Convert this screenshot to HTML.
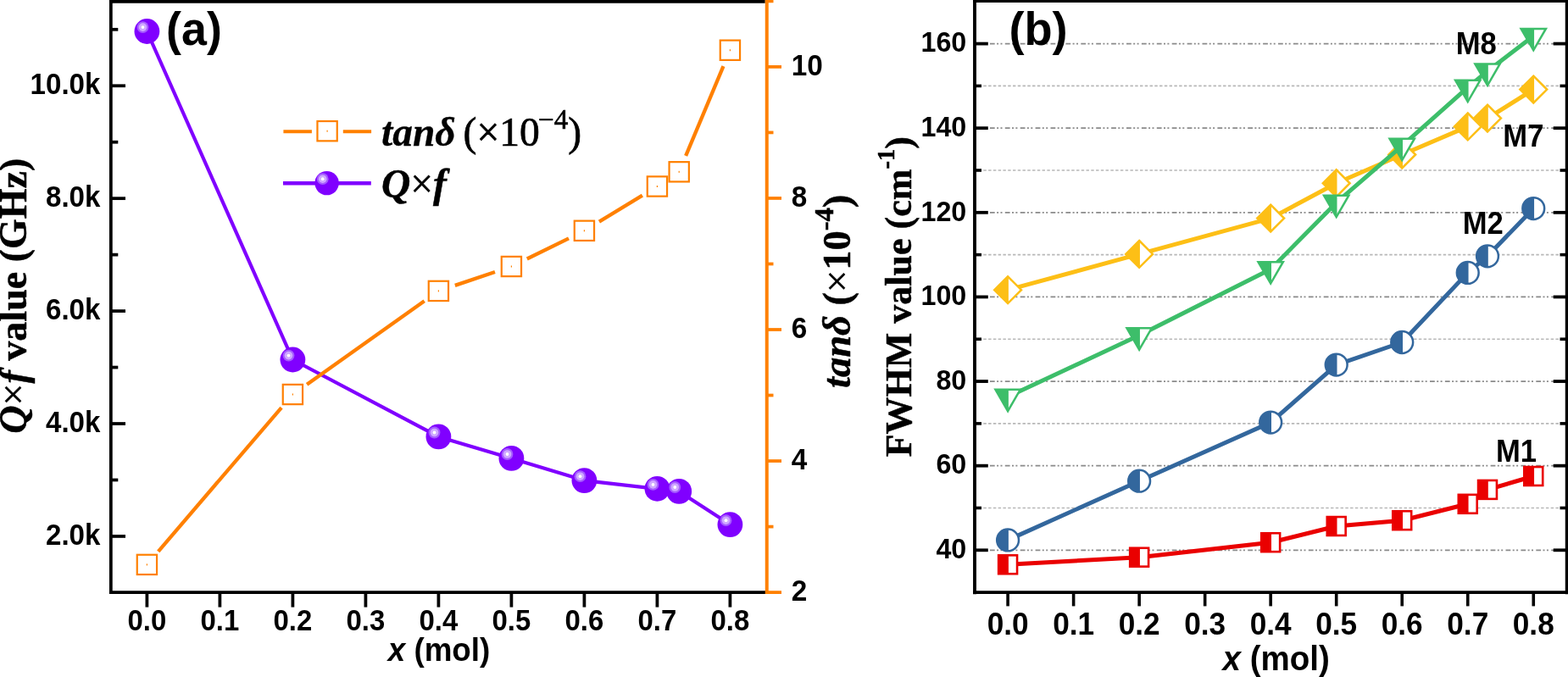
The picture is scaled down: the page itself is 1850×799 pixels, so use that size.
<!DOCTYPE html>
<html><head><meta charset="utf-8"><title>Figure</title>
<style>html,body{margin:0;padding:0;background:#fff;overflow:hidden}svg{display:block}</style>
</head><body>
<svg width="1850" height="799" viewBox="0 0 1850 799">
<rect width="1850" height="799" fill="#fff"/>
<line x1="128.97" y1="1.8" x2="902.75" y2="1.8" stroke="#000" stroke-width="3.75"/>
<line x1="130.84" y1="0" x2="130.84" y2="700.98" stroke="#000" stroke-width="3.75"/>
<line x1="128.97" y1="699.1" x2="904.75" y2="699.1" stroke="#000" stroke-width="3.75"/>
<line x1="130.84" y1="632.93" x2="148" y2="632.93" stroke="#000" stroke-width="3.75"/>
<line x1="130.84" y1="566.47" x2="139.3" y2="566.47" stroke="#000" stroke-width="3.75"/>
<line x1="130.84" y1="500.01" x2="148" y2="500.01" stroke="#000" stroke-width="3.75"/>
<line x1="130.84" y1="433.55" x2="139.3" y2="433.55" stroke="#000" stroke-width="3.75"/>
<line x1="130.84" y1="367.09" x2="148" y2="367.09" stroke="#000" stroke-width="3.75"/>
<line x1="130.84" y1="300.63" x2="139.3" y2="300.63" stroke="#000" stroke-width="3.75"/>
<line x1="130.84" y1="234.17" x2="148" y2="234.17" stroke="#000" stroke-width="3.75"/>
<line x1="130.84" y1="167.71" x2="139.3" y2="167.71" stroke="#000" stroke-width="3.75"/>
<line x1="130.84" y1="101.25" x2="148" y2="101.25" stroke="#000" stroke-width="3.75"/>
<line x1="130.84" y1="34.79" x2="139.3" y2="34.79" stroke="#000" stroke-width="3.75"/>
<text transform="translate(118.4,642.63) scale(1,1.04)" font-family="'Liberation Sans', Arial, sans-serif" font-weight="bold" font-size="33.1" text-anchor="end">2.0k</text>
<text transform="translate(118.4,509.71) scale(1,1.04)" font-family="'Liberation Sans', Arial, sans-serif" font-weight="bold" font-size="33.1" text-anchor="end">4.0k</text>
<text transform="translate(118.4,376.79) scale(1,1.04)" font-family="'Liberation Sans', Arial, sans-serif" font-weight="bold" font-size="33.1" text-anchor="end">6.0k</text>
<text transform="translate(118.4,243.87) scale(1,1.04)" font-family="'Liberation Sans', Arial, sans-serif" font-weight="bold" font-size="33.1" text-anchor="end">8.0k</text>
<text transform="translate(118.4,110.95) scale(1,1.04)" font-family="'Liberation Sans', Arial, sans-serif" font-weight="bold" font-size="33.1" text-anchor="end">10.0k</text>
<line x1="173.4" y1="699.1" x2="173.4" y2="716.6" stroke="#000" stroke-width="3.75"/>
<text transform="translate(173.4,744.1) scale(1,1.04)" font-family="'Liberation Sans', Arial, sans-serif" font-weight="bold" font-size="32.9" text-anchor="middle">0.0</text>
<line x1="259.4" y1="699.1" x2="259.4" y2="716.6" stroke="#000" stroke-width="3.75"/>
<text transform="translate(259.4,744.1) scale(1,1.04)" font-family="'Liberation Sans', Arial, sans-serif" font-weight="bold" font-size="32.9" text-anchor="middle">0.1</text>
<line x1="345.4" y1="699.1" x2="345.4" y2="716.6" stroke="#000" stroke-width="3.75"/>
<text transform="translate(345.4,744.1) scale(1,1.04)" font-family="'Liberation Sans', Arial, sans-serif" font-weight="bold" font-size="32.9" text-anchor="middle">0.2</text>
<line x1="431.4" y1="699.1" x2="431.4" y2="716.6" stroke="#000" stroke-width="3.75"/>
<text transform="translate(431.4,744.1) scale(1,1.04)" font-family="'Liberation Sans', Arial, sans-serif" font-weight="bold" font-size="32.9" text-anchor="middle">0.3</text>
<line x1="517.4" y1="699.1" x2="517.4" y2="716.6" stroke="#000" stroke-width="3.75"/>
<text transform="translate(517.4,744.1) scale(1,1.04)" font-family="'Liberation Sans', Arial, sans-serif" font-weight="bold" font-size="32.9" text-anchor="middle">0.4</text>
<line x1="603.4" y1="699.1" x2="603.4" y2="716.6" stroke="#000" stroke-width="3.75"/>
<text transform="translate(603.4,744.1) scale(1,1.04)" font-family="'Liberation Sans', Arial, sans-serif" font-weight="bold" font-size="32.9" text-anchor="middle">0.5</text>
<line x1="689.4" y1="699.1" x2="689.4" y2="716.6" stroke="#000" stroke-width="3.75"/>
<text transform="translate(689.4,744.1) scale(1,1.04)" font-family="'Liberation Sans', Arial, sans-serif" font-weight="bold" font-size="32.9" text-anchor="middle">0.6</text>
<line x1="775.4" y1="699.1" x2="775.4" y2="716.6" stroke="#000" stroke-width="3.75"/>
<text transform="translate(775.4,744.1) scale(1,1.04)" font-family="'Liberation Sans', Arial, sans-serif" font-weight="bold" font-size="32.9" text-anchor="middle">0.7</text>
<line x1="861.4" y1="699.1" x2="861.4" y2="716.6" stroke="#000" stroke-width="3.75"/>
<text transform="translate(861.4,744.1) scale(1,1.04)" font-family="'Liberation Sans', Arial, sans-serif" font-weight="bold" font-size="32.9" text-anchor="middle">0.8</text>
<line x1="904.75" y1="0" x2="904.75" y2="700.98" stroke="#FF8000" stroke-width="4"/>
<line x1="904.75" y1="699.1" x2="922" y2="699.1" stroke="#FF8000" stroke-width="3.75"/>
<text transform="translate(933.7,709) scale(1,1.04)" font-family="'Liberation Sans', Arial, sans-serif" font-weight="bold" font-size="33.3">2</text>
<line x1="904.75" y1="621.58" x2="912.5" y2="621.58" stroke="#FF8000" stroke-width="3.75"/>
<line x1="904.75" y1="544.05" x2="922" y2="544.05" stroke="#FF8000" stroke-width="3.75"/>
<text transform="translate(933.7,553.95) scale(1,1.04)" font-family="'Liberation Sans', Arial, sans-serif" font-weight="bold" font-size="33.3">4</text>
<line x1="904.75" y1="466.52" x2="912.5" y2="466.52" stroke="#FF8000" stroke-width="3.75"/>
<line x1="904.75" y1="389" x2="922" y2="389" stroke="#FF8000" stroke-width="3.75"/>
<text transform="translate(933.7,398.9) scale(1,1.04)" font-family="'Liberation Sans', Arial, sans-serif" font-weight="bold" font-size="33.3">6</text>
<line x1="904.75" y1="311.48" x2="912.5" y2="311.48" stroke="#FF8000" stroke-width="3.75"/>
<line x1="904.75" y1="233.95" x2="922" y2="233.95" stroke="#FF8000" stroke-width="3.75"/>
<text transform="translate(933.7,243.85) scale(1,1.04)" font-family="'Liberation Sans', Arial, sans-serif" font-weight="bold" font-size="33.3">8</text>
<line x1="904.75" y1="156.42" x2="912.5" y2="156.42" stroke="#FF8000" stroke-width="3.75"/>
<line x1="904.75" y1="78.9" x2="922" y2="78.9" stroke="#FF8000" stroke-width="3.75"/>
<text transform="translate(933.7,88.8) scale(1,1.04)" font-family="'Liberation Sans', Arial, sans-serif" font-weight="bold" font-size="33.3">10</text>
<line x1="904.75" y1="1.38" x2="912.5" y2="1.38" stroke="#FF8000" stroke-width="3.75"/>
<polyline points="173.4,37 345.4,424.5 517.4,515.4 603.4,540.9 689.4,567.1 775.4,576.8 801.2,579.9 861.4,619.1" fill="none" stroke="#8000FF" stroke-width="4.2" stroke-linejoin="round"/>
<circle cx="173.4" cy="37" r="14.9" fill="#8000FF"/><circle cx="168.5" cy="32.1" r="6.9" fill="#A55CFF"/><circle cx="168.5" cy="32.1" r="4.8" fill="#CFA8FF"/><circle cx="168.5" cy="32.1" r="1.9" fill="#FFFFFF"/>
<circle cx="345.4" cy="424.5" r="14.9" fill="#8000FF"/><circle cx="340.5" cy="419.6" r="6.9" fill="#A55CFF"/><circle cx="340.5" cy="419.6" r="4.8" fill="#CFA8FF"/><circle cx="340.5" cy="419.6" r="1.9" fill="#FFFFFF"/>
<circle cx="517.4" cy="515.4" r="14.9" fill="#8000FF"/><circle cx="512.5" cy="510.5" r="6.9" fill="#A55CFF"/><circle cx="512.5" cy="510.5" r="4.8" fill="#CFA8FF"/><circle cx="512.5" cy="510.5" r="1.9" fill="#FFFFFF"/>
<circle cx="603.4" cy="540.9" r="14.9" fill="#8000FF"/><circle cx="598.5" cy="536" r="6.9" fill="#A55CFF"/><circle cx="598.5" cy="536" r="4.8" fill="#CFA8FF"/><circle cx="598.5" cy="536" r="1.9" fill="#FFFFFF"/>
<circle cx="689.4" cy="567.1" r="14.9" fill="#8000FF"/><circle cx="684.5" cy="562.2" r="6.9" fill="#A55CFF"/><circle cx="684.5" cy="562.2" r="4.8" fill="#CFA8FF"/><circle cx="684.5" cy="562.2" r="1.9" fill="#FFFFFF"/>
<circle cx="775.4" cy="576.8" r="14.9" fill="#8000FF"/><circle cx="770.5" cy="571.9" r="6.9" fill="#A55CFF"/><circle cx="770.5" cy="571.9" r="4.8" fill="#CFA8FF"/><circle cx="770.5" cy="571.9" r="1.9" fill="#FFFFFF"/>
<circle cx="801.2" cy="579.9" r="14.9" fill="#8000FF"/><circle cx="796.3" cy="575" r="6.9" fill="#A55CFF"/><circle cx="796.3" cy="575" r="4.8" fill="#CFA8FF"/><circle cx="796.3" cy="575" r="1.9" fill="#FFFFFF"/>
<circle cx="861.4" cy="619.1" r="14.9" fill="#8000FF"/><circle cx="856.5" cy="614.2" r="6.9" fill="#A55CFF"/><circle cx="856.5" cy="614.2" r="4.8" fill="#CFA8FF"/><circle cx="856.5" cy="614.2" r="1.9" fill="#FFFFFF"/>
<line x1="186.73" y1="650.83" x2="332.07" y2="481.07" stroke="#FF8000" stroke-width="4.3"/>
<line x1="362.12" y1="453.63" x2="500.68" y2="355.27" stroke="#FF8000" stroke-width="4.3"/>
<line x1="536.83" y1="336.87" x2="583.97" y2="321.03" stroke="#FF8000" stroke-width="4.3"/>
<line x1="621.8" y1="305.47" x2="671" y2="281.33" stroke="#FF8000" stroke-width="4.3"/>
<line x1="706.92" y1="261.65" x2="757.88" y2="230.65" stroke="#FF8000" stroke-width="4.3"/>
<line x1="809.13" y1="183.9" x2="853.47" y2="78.15" stroke="#FF8000" stroke-width="4.3"/>
<rect x="161.75" y="654.75" width="23.3" height="23.3" fill="#fff" stroke="#FF8000" stroke-width="2.2"/><rect x="172.8" y="665.4" width="1.2" height="2" fill="#FF8000"/>
<rect x="333.75" y="453.85" width="23.3" height="23.3" fill="#fff" stroke="#FF8000" stroke-width="2.2"/><rect x="344.8" y="464.5" width="1.2" height="2" fill="#FF8000"/>
<rect x="505.75" y="331.75" width="23.3" height="23.3" fill="#fff" stroke="#FF8000" stroke-width="2.2"/><rect x="516.8" y="342.4" width="1.2" height="2" fill="#FF8000"/>
<rect x="591.75" y="302.85" width="23.3" height="23.3" fill="#fff" stroke="#FF8000" stroke-width="2.2"/><rect x="602.8" y="313.5" width="1.2" height="2" fill="#FF8000"/>
<rect x="677.75" y="260.65" width="23.3" height="23.3" fill="#fff" stroke="#FF8000" stroke-width="2.2"/><rect x="688.8" y="271.3" width="1.2" height="2" fill="#FF8000"/>
<rect x="763.75" y="208.35" width="23.3" height="23.3" fill="#fff" stroke="#FF8000" stroke-width="2.2"/><rect x="774.8" y="219" width="1.2" height="2" fill="#FF8000"/>
<rect x="789.55" y="191.15" width="23.3" height="23.3" fill="#fff" stroke="#FF8000" stroke-width="2.2"/><rect x="800.6" y="201.8" width="1.2" height="2" fill="#FF8000"/>
<rect x="849.75" y="47.6" width="23.3" height="23.3" fill="#fff" stroke="#FF8000" stroke-width="2.2"/><rect x="860.8" y="58.25" width="1.2" height="2" fill="#FF8000"/>
<line x1="334.4" y1="155.2" x2="367.9" y2="155.2" stroke="#FF8000" stroke-width="4.1"/>
<line x1="404.8" y1="155.2" x2="438.1" y2="155.2" stroke="#FF8000" stroke-width="4.1"/>
<rect x="374.45" y="143.05" width="23.3" height="23.3" fill="#fff" stroke="#FF8000" stroke-width="2.2"/><rect x="385.5" y="153.7" width="1.2" height="2" fill="#FF8000"/>
<line x1="334" y1="216.25" x2="437.8" y2="216.25" stroke="#8000FF" stroke-width="4.3"/>
<circle cx="385.6" cy="216.1" r="14.2" fill="#8000FF"/><circle cx="380.7" cy="211.2" r="6.9" fill="#A55CFF"/><circle cx="380.7" cy="211.2" r="4.8" fill="#CFA8FF"/><circle cx="380.7" cy="211.2" r="1.9" fill="#FFFFFF"/>
<text x="450" y="171.6" font-family="'Liberation Serif', 'Times New Roman', serif" font-size="47.5" stroke="#000" stroke-width="0.7"><tspan font-weight="bold" font-style="italic" stroke-width="0.3">tanδ</tspan> <tspan dx="-3">(×10</tspan><tspan font-size="33" dx="-1.6" dy="-20">−4</tspan><tspan dy="20">)</tspan></text>
<text x="450" y="233" font-family="'Liberation Serif', 'Times New Roman', serif" font-size="47.5" stroke="#000" stroke-width="0.5"><tspan font-weight="bold" font-style="italic">Q</tspan>×<tspan font-weight="bold" font-style="italic">f</tspan></text>
<text transform="translate(196.1,52.9) scale(1,1.04)" font-family="'Liberation Sans', Arial, sans-serif" font-weight="bold" font-size="53.8">(a)</text>
<text transform="translate(31.3,349.2) rotate(-90)" text-anchor="middle" font-family="'Liberation Serif', 'Times New Roman', serif" font-size="46" font-weight="bold" stroke="#000" stroke-width="0.5"><tspan font-style="italic">Q</tspan><tspan font-weight="normal">×</tspan><tspan font-style="italic">f</tspan> value (GHz)</text>
<text transform="translate(1002.5,343.8) rotate(-90)" text-anchor="middle" font-family="'Liberation Serif', 'Times New Roman', serif" font-size="46.5" font-weight="bold" stroke="#000" stroke-width="0.5"><tspan font-style="italic">tanδ</tspan> (<tspan font-weight="normal">×</tspan>10<tspan font-size="32.5" dy="-19.6">-4</tspan><tspan dy="19.6">)</tspan></text>
<text transform="translate(518,779.6) scale(1,1.04)" font-family="'Liberation Sans', Arial, sans-serif" font-weight="bold" font-size="36.8" text-anchor="middle"><tspan font-style="italic">x</tspan> (mol)</text>
<line x1="1150.0" y1="649.3" x2="1848.7" y2="649.3" stroke="#8a8a8a" stroke-width="1.8" stroke-dasharray="5.8 2.4 2 2.4 2 3.3"/>
<line x1="1150.0" y1="549.68" x2="1848.7" y2="549.68" stroke="#8a8a8a" stroke-width="1.8" stroke-dasharray="5.8 2.4 2 2.4 2 3.3"/>
<line x1="1150.0" y1="450.06" x2="1848.7" y2="450.06" stroke="#8a8a8a" stroke-width="1.8" stroke-dasharray="5.8 2.4 2 2.4 2 3.3"/>
<line x1="1150.0" y1="350.44" x2="1848.7" y2="350.44" stroke="#8a8a8a" stroke-width="1.8" stroke-dasharray="5.8 2.4 2 2.4 2 3.3"/>
<line x1="1150.0" y1="250.82" x2="1848.7" y2="250.82" stroke="#8a8a8a" stroke-width="1.8" stroke-dasharray="5.8 2.4 2 2.4 2 3.3"/>
<line x1="1150.0" y1="151.2" x2="1848.7" y2="151.2" stroke="#8a8a8a" stroke-width="1.8" stroke-dasharray="5.8 2.4 2 2.4 2 3.3"/>
<line x1="1150.0" y1="51.58" x2="1848.7" y2="51.58" stroke="#8a8a8a" stroke-width="1.8" stroke-dasharray="5.8 2.4 2 2.4 2 3.3"/>
<line x1="1150.0" y1="599.49" x2="1848.7" y2="599.49" stroke="#b8b8b8" stroke-width="1.6" stroke-dasharray="3.45 2.32" stroke-dashoffset="1.2"/>
<line x1="1150.0" y1="499.87" x2="1848.7" y2="499.87" stroke="#b8b8b8" stroke-width="1.6" stroke-dasharray="3.45 2.32" stroke-dashoffset="1.2"/>
<line x1="1150.0" y1="400.25" x2="1848.7" y2="400.25" stroke="#b8b8b8" stroke-width="1.6" stroke-dasharray="3.45 2.32" stroke-dashoffset="1.2"/>
<line x1="1150.0" y1="300.63" x2="1848.7" y2="300.63" stroke="#b8b8b8" stroke-width="1.6" stroke-dasharray="3.45 2.32" stroke-dashoffset="1.2"/>
<line x1="1150.0" y1="201.01" x2="1848.7" y2="201.01" stroke="#b8b8b8" stroke-width="1.6" stroke-dasharray="3.45 2.32" stroke-dashoffset="1.2"/>
<line x1="1150.0" y1="101.39" x2="1848.7" y2="101.39" stroke="#b8b8b8" stroke-width="1.6" stroke-dasharray="3.45 2.32" stroke-dashoffset="1.2"/>
<line x1="1148" y1="1.3" x2="1850.7" y2="1.3" stroke="#000" stroke-width="3.4"/>
<line x1="1150.0" y1="0" x2="1150.0" y2="701.2" stroke="#000" stroke-width="3.9"/>
<line x1="1848.7" y1="0" x2="1848.7" y2="701.2" stroke="#000" stroke-width="3.9"/>
<line x1="1148" y1="699.2" x2="1850.7" y2="699.2" stroke="#000" stroke-width="3.7"/>
<line x1="1150.0" y1="649.3" x2="1165.8" y2="649.3" stroke="#000" stroke-width="3.8"/>
<line x1="1848.7" y1="649.3" x2="1832.7" y2="649.3" stroke="#000" stroke-width="3.8"/>
<text transform="translate(1140.3,659.1) scale(1,1.04)" font-family="'Liberation Sans', Arial, sans-serif" font-weight="bold" font-size="32.3" text-anchor="end">40</text>
<line x1="1150.0" y1="599.49" x2="1158" y2="599.49" stroke="#000" stroke-width="3.6"/>
<line x1="1848.7" y1="599.49" x2="1840.5" y2="599.49" stroke="#000" stroke-width="3.6"/>
<line x1="1150.0" y1="549.68" x2="1165.8" y2="549.68" stroke="#000" stroke-width="3.8"/>
<line x1="1848.7" y1="549.68" x2="1832.7" y2="549.68" stroke="#000" stroke-width="3.8"/>
<text transform="translate(1140.3,559.48) scale(1,1.04)" font-family="'Liberation Sans', Arial, sans-serif" font-weight="bold" font-size="32.3" text-anchor="end">60</text>
<line x1="1150.0" y1="499.87" x2="1158" y2="499.87" stroke="#000" stroke-width="3.6"/>
<line x1="1848.7" y1="499.87" x2="1840.5" y2="499.87" stroke="#000" stroke-width="3.6"/>
<line x1="1150.0" y1="450.06" x2="1165.8" y2="450.06" stroke="#000" stroke-width="3.8"/>
<line x1="1848.7" y1="450.06" x2="1832.7" y2="450.06" stroke="#000" stroke-width="3.8"/>
<text transform="translate(1140.3,459.86) scale(1,1.04)" font-family="'Liberation Sans', Arial, sans-serif" font-weight="bold" font-size="32.3" text-anchor="end">80</text>
<line x1="1150.0" y1="400.25" x2="1158" y2="400.25" stroke="#000" stroke-width="3.6"/>
<line x1="1848.7" y1="400.25" x2="1840.5" y2="400.25" stroke="#000" stroke-width="3.6"/>
<line x1="1150.0" y1="350.44" x2="1165.8" y2="350.44" stroke="#000" stroke-width="3.8"/>
<line x1="1848.7" y1="350.44" x2="1832.7" y2="350.44" stroke="#000" stroke-width="3.8"/>
<text transform="translate(1140.3,360.24) scale(1,1.04)" font-family="'Liberation Sans', Arial, sans-serif" font-weight="bold" font-size="32.3" text-anchor="end">100</text>
<line x1="1150.0" y1="300.63" x2="1158" y2="300.63" stroke="#000" stroke-width="3.6"/>
<line x1="1848.7" y1="300.63" x2="1840.5" y2="300.63" stroke="#000" stroke-width="3.6"/>
<line x1="1150.0" y1="250.82" x2="1165.8" y2="250.82" stroke="#000" stroke-width="3.8"/>
<line x1="1848.7" y1="250.82" x2="1832.7" y2="250.82" stroke="#000" stroke-width="3.8"/>
<text transform="translate(1140.3,260.62) scale(1,1.04)" font-family="'Liberation Sans', Arial, sans-serif" font-weight="bold" font-size="32.3" text-anchor="end">120</text>
<line x1="1150.0" y1="201.01" x2="1158" y2="201.01" stroke="#000" stroke-width="3.6"/>
<line x1="1848.7" y1="201.01" x2="1840.5" y2="201.01" stroke="#000" stroke-width="3.6"/>
<line x1="1150.0" y1="151.2" x2="1165.8" y2="151.2" stroke="#000" stroke-width="3.8"/>
<line x1="1848.7" y1="151.2" x2="1832.7" y2="151.2" stroke="#000" stroke-width="3.8"/>
<text transform="translate(1140.3,161) scale(1,1.04)" font-family="'Liberation Sans', Arial, sans-serif" font-weight="bold" font-size="32.3" text-anchor="end">140</text>
<line x1="1150.0" y1="101.39" x2="1158" y2="101.39" stroke="#000" stroke-width="3.6"/>
<line x1="1848.7" y1="101.39" x2="1840.5" y2="101.39" stroke="#000" stroke-width="3.6"/>
<line x1="1150.0" y1="51.58" x2="1165.8" y2="51.58" stroke="#000" stroke-width="3.8"/>
<line x1="1848.7" y1="51.58" x2="1832.7" y2="51.58" stroke="#000" stroke-width="3.8"/>
<text transform="translate(1140.3,61.38) scale(1,1.04)" font-family="'Liberation Sans', Arial, sans-serif" font-weight="bold" font-size="32.3" text-anchor="end">160</text>
<line x1="1189.1" y1="699.2" x2="1189.1" y2="715.4" stroke="#000" stroke-width="3.6"/>
<text transform="translate(1189.1,748.5) scale(1,1.04)" font-family="'Liberation Sans', Arial, sans-serif" font-weight="bold" font-size="35.2" text-anchor="middle">0.0</text>
<line x1="1266.62" y1="699.2" x2="1266.62" y2="715.4" stroke="#000" stroke-width="3.6"/>
<text transform="translate(1266.62,748.5) scale(1,1.04)" font-family="'Liberation Sans', Arial, sans-serif" font-weight="bold" font-size="35.2" text-anchor="middle">0.1</text>
<line x1="1344.14" y1="699.2" x2="1344.14" y2="715.4" stroke="#000" stroke-width="3.6"/>
<text transform="translate(1344.14,748.5) scale(1,1.04)" font-family="'Liberation Sans', Arial, sans-serif" font-weight="bold" font-size="35.2" text-anchor="middle">0.2</text>
<line x1="1421.66" y1="699.2" x2="1421.66" y2="715.4" stroke="#000" stroke-width="3.6"/>
<text transform="translate(1421.66,748.5) scale(1,1.04)" font-family="'Liberation Sans', Arial, sans-serif" font-weight="bold" font-size="35.2" text-anchor="middle">0.3</text>
<line x1="1499.18" y1="699.2" x2="1499.18" y2="715.4" stroke="#000" stroke-width="3.6"/>
<text transform="translate(1499.18,748.5) scale(1,1.04)" font-family="'Liberation Sans', Arial, sans-serif" font-weight="bold" font-size="35.2" text-anchor="middle">0.4</text>
<line x1="1576.7" y1="699.2" x2="1576.7" y2="715.4" stroke="#000" stroke-width="3.6"/>
<text transform="translate(1576.7,748.5) scale(1,1.04)" font-family="'Liberation Sans', Arial, sans-serif" font-weight="bold" font-size="35.2" text-anchor="middle">0.5</text>
<line x1="1654.22" y1="699.2" x2="1654.22" y2="715.4" stroke="#000" stroke-width="3.6"/>
<text transform="translate(1654.22,748.5) scale(1,1.04)" font-family="'Liberation Sans', Arial, sans-serif" font-weight="bold" font-size="35.2" text-anchor="middle">0.6</text>
<line x1="1731.74" y1="699.2" x2="1731.74" y2="715.4" stroke="#000" stroke-width="3.6"/>
<text transform="translate(1731.74,748.5) scale(1,1.04)" font-family="'Liberation Sans', Arial, sans-serif" font-weight="bold" font-size="35.2" text-anchor="middle">0.7</text>
<line x1="1809.26" y1="699.2" x2="1809.26" y2="715.4" stroke="#000" stroke-width="3.6"/>
<text transform="translate(1809.26,748.5) scale(1,1.04)" font-family="'Liberation Sans', Arial, sans-serif" font-weight="bold" font-size="35.2" text-anchor="middle">0.8</text>
<polyline points="1189.1,666.3 1344.14,657.7 1499.18,640.2 1576.7,621 1654.22,614.2 1731.74,594.8 1755,577.9 1809.26,562" fill="none" stroke="#EA0000" stroke-width="5" stroke-linejoin="round"/>
<rect x="1178.15" y="655.35" width="21.9" height="21.9" fill="#fff"/><rect x="1178.15" y="655.35" width="11.75" height="21.9" fill="#EA0000"/><rect x="1178.15" y="655.35" width="21.9" height="21.9" fill="none" stroke="#EA0000" stroke-width="2.6"/>
<rect x="1333.19" y="646.75" width="21.9" height="21.9" fill="#fff"/><rect x="1333.19" y="646.75" width="11.75" height="21.9" fill="#EA0000"/><rect x="1333.19" y="646.75" width="21.9" height="21.9" fill="none" stroke="#EA0000" stroke-width="2.6"/>
<rect x="1488.23" y="629.25" width="21.9" height="21.9" fill="#fff"/><rect x="1488.23" y="629.25" width="11.75" height="21.9" fill="#EA0000"/><rect x="1488.23" y="629.25" width="21.9" height="21.9" fill="none" stroke="#EA0000" stroke-width="2.6"/>
<rect x="1565.75" y="610.05" width="21.9" height="21.9" fill="#fff"/><rect x="1565.75" y="610.05" width="11.75" height="21.9" fill="#EA0000"/><rect x="1565.75" y="610.05" width="21.9" height="21.9" fill="none" stroke="#EA0000" stroke-width="2.6"/>
<rect x="1643.27" y="603.25" width="21.9" height="21.9" fill="#fff"/><rect x="1643.27" y="603.25" width="11.75" height="21.9" fill="#EA0000"/><rect x="1643.27" y="603.25" width="21.9" height="21.9" fill="none" stroke="#EA0000" stroke-width="2.6"/>
<rect x="1720.79" y="583.85" width="21.9" height="21.9" fill="#fff"/><rect x="1720.79" y="583.85" width="11.75" height="21.9" fill="#EA0000"/><rect x="1720.79" y="583.85" width="21.9" height="21.9" fill="none" stroke="#EA0000" stroke-width="2.6"/>
<rect x="1744.05" y="566.95" width="21.9" height="21.9" fill="#fff"/><rect x="1744.05" y="566.95" width="11.75" height="21.9" fill="#EA0000"/><rect x="1744.05" y="566.95" width="21.9" height="21.9" fill="none" stroke="#EA0000" stroke-width="2.6"/>
<rect x="1798.31" y="551.05" width="21.9" height="21.9" fill="#fff"/><rect x="1798.31" y="551.05" width="11.75" height="21.9" fill="#EA0000"/><rect x="1798.31" y="551.05" width="21.9" height="21.9" fill="none" stroke="#EA0000" stroke-width="2.6"/>
<polyline points="1189.1,637.4 1344.14,567.7 1499.18,498.6 1576.7,430.6 1654.22,404 1731.74,321.9 1755,302.3 1809.26,246.1" fill="none" stroke="#33679D" stroke-width="5" stroke-linejoin="round"/>
<circle cx="1189.1" cy="637.4" r="12.9" fill="#fff"/><path d="M1189.9,624.5 L1189.1,624.5 A12.9,12.9 0 0 0 1189.1,650.3 L1189.9,650.3 Z" fill="#33679D"/><circle cx="1189.1" cy="637.4" r="12.9" fill="none" stroke="#33679D" stroke-width="2.5"/>
<circle cx="1344.14" cy="567.7" r="12.9" fill="#fff"/><path d="M1344.94,554.8 L1344.14,554.8 A12.9,12.9 0 0 0 1344.14,580.6 L1344.94,580.6 Z" fill="#33679D"/><circle cx="1344.14" cy="567.7" r="12.9" fill="none" stroke="#33679D" stroke-width="2.5"/>
<circle cx="1499.18" cy="498.6" r="12.9" fill="#fff"/><path d="M1499.98,485.7 L1499.18,485.7 A12.9,12.9 0 0 0 1499.18,511.5 L1499.98,511.5 Z" fill="#33679D"/><circle cx="1499.18" cy="498.6" r="12.9" fill="none" stroke="#33679D" stroke-width="2.5"/>
<circle cx="1576.7" cy="430.6" r="12.9" fill="#fff"/><path d="M1577.5,417.7 L1576.7,417.7 A12.9,12.9 0 0 0 1576.7,443.5 L1577.5,443.5 Z" fill="#33679D"/><circle cx="1576.7" cy="430.6" r="12.9" fill="none" stroke="#33679D" stroke-width="2.5"/>
<circle cx="1654.22" cy="404" r="12.9" fill="#fff"/><path d="M1655.02,391.1 L1654.22,391.1 A12.9,12.9 0 0 0 1654.22,416.9 L1655.02,416.9 Z" fill="#33679D"/><circle cx="1654.22" cy="404" r="12.9" fill="none" stroke="#33679D" stroke-width="2.5"/>
<circle cx="1731.74" cy="321.9" r="12.9" fill="#fff"/><path d="M1732.54,309 L1731.74,309 A12.9,12.9 0 0 0 1731.74,334.8 L1732.54,334.8 Z" fill="#33679D"/><circle cx="1731.74" cy="321.9" r="12.9" fill="none" stroke="#33679D" stroke-width="2.5"/>
<circle cx="1755" cy="302.3" r="12.9" fill="#fff"/><path d="M1755.8,289.4 L1755,289.4 A12.9,12.9 0 0 0 1755,315.2 L1755.8,315.2 Z" fill="#33679D"/><circle cx="1755" cy="302.3" r="12.9" fill="none" stroke="#33679D" stroke-width="2.5"/>
<circle cx="1809.26" cy="246.1" r="12.9" fill="#fff"/><path d="M1810.06,233.2 L1809.26,233.2 A12.9,12.9 0 0 0 1809.26,259 L1810.06,259 Z" fill="#33679D"/><circle cx="1809.26" cy="246.1" r="12.9" fill="none" stroke="#33679D" stroke-width="2.5"/>
<polyline points="1189.1,342.2 1344.14,299.9 1499.18,257.6 1576.7,216.25 1654.22,182.5 1731.74,149.4 1755,139.6 1809.26,105.6" fill="none" stroke="#FDBF16" stroke-width="5" stroke-linejoin="round"/>
<polygon points="1189.1,326.3 1205,342.2 1189.1,358.1 1173.2,342.2" fill="#fff"/><polygon points="1189.9,327.1 1189.1,326.3 1173.2,342.2 1189.1,358.1 1189.9,357.3" fill="#FDBF16"/><polygon points="1189.1,326.3 1205,342.2 1189.1,358.1 1173.2,342.2" fill="none" stroke="#FDBF16" stroke-width="2.5" stroke-linejoin="miter"/>
<polygon points="1344.14,284 1360.04,299.9 1344.14,315.8 1328.24,299.9" fill="#fff"/><polygon points="1344.94,284.8 1344.14,284 1328.24,299.9 1344.14,315.8 1344.94,315" fill="#FDBF16"/><polygon points="1344.14,284 1360.04,299.9 1344.14,315.8 1328.24,299.9" fill="none" stroke="#FDBF16" stroke-width="2.5" stroke-linejoin="miter"/>
<polygon points="1499.18,241.7 1515.08,257.6 1499.18,273.5 1483.28,257.6" fill="#fff"/><polygon points="1499.98,242.5 1499.18,241.7 1483.28,257.6 1499.18,273.5 1499.98,272.7" fill="#FDBF16"/><polygon points="1499.18,241.7 1515.08,257.6 1499.18,273.5 1483.28,257.6" fill="none" stroke="#FDBF16" stroke-width="2.5" stroke-linejoin="miter"/>
<polygon points="1576.7,200.35 1592.6,216.25 1576.7,232.15 1560.8,216.25" fill="#fff"/><polygon points="1577.5,201.15 1576.7,200.35 1560.8,216.25 1576.7,232.15 1577.5,231.35" fill="#FDBF16"/><polygon points="1576.7,200.35 1592.6,216.25 1576.7,232.15 1560.8,216.25" fill="none" stroke="#FDBF16" stroke-width="2.5" stroke-linejoin="miter"/>
<polygon points="1654.22,166.6 1670.12,182.5 1654.22,198.4 1638.32,182.5" fill="#fff"/><polygon points="1655.02,167.4 1654.22,166.6 1638.32,182.5 1654.22,198.4 1655.02,197.6" fill="#FDBF16"/><polygon points="1654.22,166.6 1670.12,182.5 1654.22,198.4 1638.32,182.5" fill="none" stroke="#FDBF16" stroke-width="2.5" stroke-linejoin="miter"/>
<polygon points="1731.74,133.5 1747.64,149.4 1731.74,165.3 1715.84,149.4" fill="#fff"/><polygon points="1732.54,134.3 1731.74,133.5 1715.84,149.4 1731.74,165.3 1732.54,164.5" fill="#FDBF16"/><polygon points="1731.74,133.5 1747.64,149.4 1731.74,165.3 1715.84,149.4" fill="none" stroke="#FDBF16" stroke-width="2.5" stroke-linejoin="miter"/>
<polygon points="1755,123.7 1770.9,139.6 1755,155.5 1739.1,139.6" fill="#fff"/><polygon points="1755.8,124.5 1755,123.7 1739.1,139.6 1755,155.5 1755.8,154.7" fill="#FDBF16"/><polygon points="1755,123.7 1770.9,139.6 1755,155.5 1739.1,139.6" fill="none" stroke="#FDBF16" stroke-width="2.5" stroke-linejoin="miter"/>
<polygon points="1809.26,89.7 1825.16,105.6 1809.26,121.5 1793.36,105.6" fill="#fff"/><polygon points="1810.06,90.5 1809.26,89.7 1793.36,105.6 1809.26,121.5 1810.06,120.7" fill="#FDBF16"/><polygon points="1809.26,89.7 1825.16,105.6 1809.26,121.5 1793.36,105.6" fill="none" stroke="#FDBF16" stroke-width="2.5" stroke-linejoin="miter"/>
<polyline points="1189.1,468.3 1344.14,395.8 1499.18,317.7 1576.7,239.2 1654.22,172.1 1731.74,103.2 1755,83.9 1809.26,42.4" fill="none" stroke="#3DBE6A" stroke-width="5" stroke-linejoin="round"/>
<polygon points="1174.45,459.84 1203.75,459.84 1189.1,485.22" fill="#fff"/><polygon points="1174.45,459.84 1189.9,459.84 1189.9,483.82 1189.1,485.22" fill="#3DBE6A"/><polygon points="1174.45,459.84 1203.75,459.84 1189.1,485.22" fill="none" stroke="#3DBE6A" stroke-width="2.5" stroke-linejoin="miter" stroke-miterlimit="10"/>
<polygon points="1329.49,387.34 1358.79,387.34 1344.14,412.72" fill="#fff"/><polygon points="1329.49,387.34 1344.94,387.34 1344.94,411.32 1344.14,412.72" fill="#3DBE6A"/><polygon points="1329.49,387.34 1358.79,387.34 1344.14,412.72" fill="none" stroke="#3DBE6A" stroke-width="2.5" stroke-linejoin="miter" stroke-miterlimit="10"/>
<polygon points="1484.53,309.24 1513.83,309.24 1499.18,334.62" fill="#fff"/><polygon points="1484.53,309.24 1499.98,309.24 1499.98,333.22 1499.18,334.62" fill="#3DBE6A"/><polygon points="1484.53,309.24 1513.83,309.24 1499.18,334.62" fill="none" stroke="#3DBE6A" stroke-width="2.5" stroke-linejoin="miter" stroke-miterlimit="10"/>
<polygon points="1562.05,230.74 1591.35,230.74 1576.7,256.12" fill="#fff"/><polygon points="1562.05,230.74 1577.5,230.74 1577.5,254.72 1576.7,256.12" fill="#3DBE6A"/><polygon points="1562.05,230.74 1591.35,230.74 1576.7,256.12" fill="none" stroke="#3DBE6A" stroke-width="2.5" stroke-linejoin="miter" stroke-miterlimit="10"/>
<polygon points="1639.57,163.64 1668.87,163.64 1654.22,189.02" fill="#fff"/><polygon points="1639.57,163.64 1655.02,163.64 1655.02,187.62 1654.22,189.02" fill="#3DBE6A"/><polygon points="1639.57,163.64 1668.87,163.64 1654.22,189.02" fill="none" stroke="#3DBE6A" stroke-width="2.5" stroke-linejoin="miter" stroke-miterlimit="10"/>
<polygon points="1717.09,94.74 1746.39,94.74 1731.74,120.12" fill="#fff"/><polygon points="1717.09,94.74 1732.54,94.74 1732.54,118.72 1731.74,120.12" fill="#3DBE6A"/><polygon points="1717.09,94.74 1746.39,94.74 1731.74,120.12" fill="none" stroke="#3DBE6A" stroke-width="2.5" stroke-linejoin="miter" stroke-miterlimit="10"/>
<polygon points="1740.35,75.44 1769.65,75.44 1755,100.82" fill="#fff"/><polygon points="1740.35,75.44 1755.8,75.44 1755.8,99.42 1755,100.82" fill="#3DBE6A"/><polygon points="1740.35,75.44 1769.65,75.44 1755,100.82" fill="none" stroke="#3DBE6A" stroke-width="2.5" stroke-linejoin="miter" stroke-miterlimit="10"/>
<polygon points="1794.61,33.94 1823.91,33.94 1809.26,59.32" fill="#fff"/><polygon points="1794.61,33.94 1810.06,33.94 1810.06,57.92 1809.26,59.32" fill="#3DBE6A"/><polygon points="1794.61,33.94 1823.91,33.94 1809.26,59.32" fill="none" stroke="#3DBE6A" stroke-width="2.5" stroke-linejoin="miter" stroke-miterlimit="10"/>
<text transform="translate(1190.4,53.2) scale(1,1.04)" font-family="'Liberation Sans', Arial, sans-serif" font-weight="bold" font-size="54.2">(b)</text>
<text transform="translate(1717.75,63.75) scale(1,1.06)" font-family="'Liberation Sans', Arial, sans-serif" font-weight="bold" font-size="34.6">M8</text>
<text transform="translate(1773.35,173) scale(1,1.06)" font-family="'Liberation Sans', Arial, sans-serif" font-weight="bold" font-size="34.6">M7</text>
<text transform="translate(1725.65,275.6) scale(1,1.06)" font-family="'Liberation Sans', Arial, sans-serif" font-weight="bold" font-size="34.6">M2</text>
<text transform="translate(1765,544.75) scale(1,1.06)" font-family="'Liberation Sans', Arial, sans-serif" font-weight="bold" font-size="34.6">M1</text>
<text transform="translate(1075,350.25) rotate(-90)" text-anchor="middle" font-family="'Liberation Serif', 'Times New Roman', serif" font-size="44" font-weight="bold" stroke="#000" stroke-width="0.5">FWHM value (cm<tspan font-size="28.5" dy="-19.7">-1</tspan><tspan dy="19.7">)</tspan></text>
<text transform="translate(1505.7,790.9) scale(1,1.04)" font-family="'Liberation Sans', Arial, sans-serif" font-weight="bold" font-size="38.5" text-anchor="middle"><tspan font-style="italic">x</tspan> (mol)</text>
</svg>
</body></html>
